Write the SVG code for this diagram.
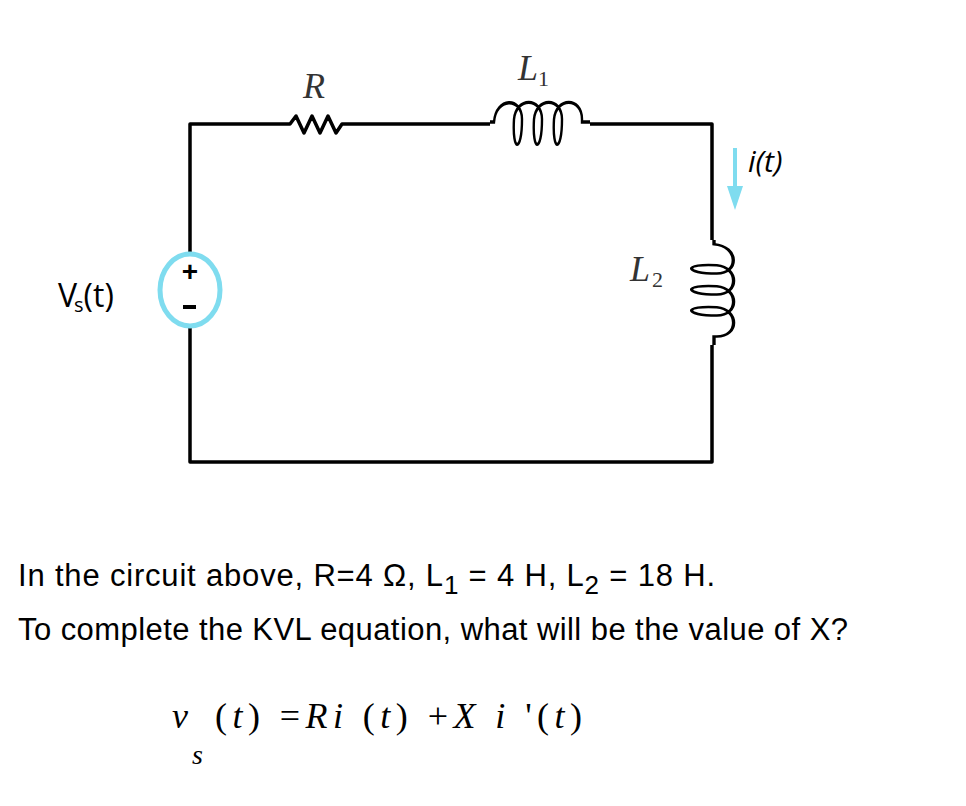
<svg xmlns="http://www.w3.org/2000/svg" width="966" height="806" viewBox="0 0 966 806">
<style>
.w{fill:none;stroke:#000;stroke-width:3.5;stroke-linejoin:round}
.c{fill:none;stroke:#000;stroke-width:2.4}
.lab{font-family:"Liberation Serif",serif;font-style:italic;font-size:36px;fill:#333}
.txt{font-family:"Liberation Sans",Arial,sans-serif;font-size:31px;fill:#000}
.eq{font-family:"Liberation Serif",serif;font-style:italic;font-size:36px;fill:#000}
</style>
<defs>
<path id="coil" d="M0,0 L4,0 C6,-18 32,-18 32,-2 C32,22 22,22 24,-2 C26,-18 52,-18 52,-2 C52,22 42,22 44,-2 C46,-18 72,-18 72,-2 C72,22 62,22 64,-2 C66,-18 92,-18 92,-2 L92,0 L100,0"/>
</defs>
<g id="wires">
<path class="w" d="M283,124 L190,124 L190,254 M190,326 L190,462 L712,462 L712,345 M712,240 L712,124 L590,124 M490,124 L350,124"/>
</g>
<g id="R"><path class="w" d="M283,124 L290,124 L296,116 L304,133 L312,116 L320,133 L328,116 L336,133 L342,124 L350,124"/>
<text class="lab" x="303" y="98">R</text></g>
<g id="L1"><use href="#coil" class="c" transform="translate(490,122) scale(1,1.4)"/>
<text class="lab" x="518" y="80">L</text><text class="lab" x="538" y="86" style="font-size:22px;font-style:normal">1</text></g>
<g id="L2"><use href="#coil" class="c" transform="translate(714,240) rotate(90) scale(1.05,1.4)"/>
<text class="lab" x="630" y="281">L</text><text class="lab" x="652" y="287" style="font-size:22px;font-style:normal">2</text></g>
<g id="Vs"><ellipse cx="190" cy="290" rx="30" ry="36" fill="#fff" stroke="#7fdcef" stroke-width="5"/>
<text x="190" y="281" text-anchor="middle" style="font-family:'Liberation Sans',sans-serif;font-size:28px;font-weight:bold">+</text>
<rect x="183" y="305" width="13" height="4" fill="#000"/>
<text x="58" y="307" style="font-family:'Open Sans',sans-serif;font-size:32px">V<tspan font-size="20" dy="5" dx="-3">s</tspan><tspan dy="-5">(t)</tspan></text></g>
<g id="i"><line x1="735" y1="148" x2="735" y2="190" stroke="#7fdcef" stroke-width="4"/>
<polygon points="727,186 743,186 735,210" fill="#7fdcef"/>
<text x="748" y="172" style="font-family:'Open Sans',sans-serif;font-style:italic;font-size:30px">i(t)</text></g>
<text class="txt" x="18" y="586" textLength="697">In the circuit above, R=4 Ω, L<tspan dy="8" font-size="26">1</tspan><tspan dy="-8"> = 4 H,  L</tspan><tspan dy="8" font-size="26">2</tspan><tspan dy="-8"> = 18 H.</tspan></text>
<text class="txt" x="18" y="640" textLength="830">To complete the KVL equation, what will be the value of X?</text>
<text class="eq" x="172" y="728">v</text><text class="eq" x="192" y="764" style="font-size:28px">s</text>
<text class="eq" x="215" y="728" textLength="367" lengthAdjust="spacing"><tspan font-style="normal">(</tspan>t<tspan font-style="normal">) =</tspan>Ri <tspan font-style="normal">(</tspan>t<tspan font-style="normal">) +</tspan>X i <tspan font-style="normal">'(</tspan>t<tspan font-style="normal">)</tspan></text>
</svg>
